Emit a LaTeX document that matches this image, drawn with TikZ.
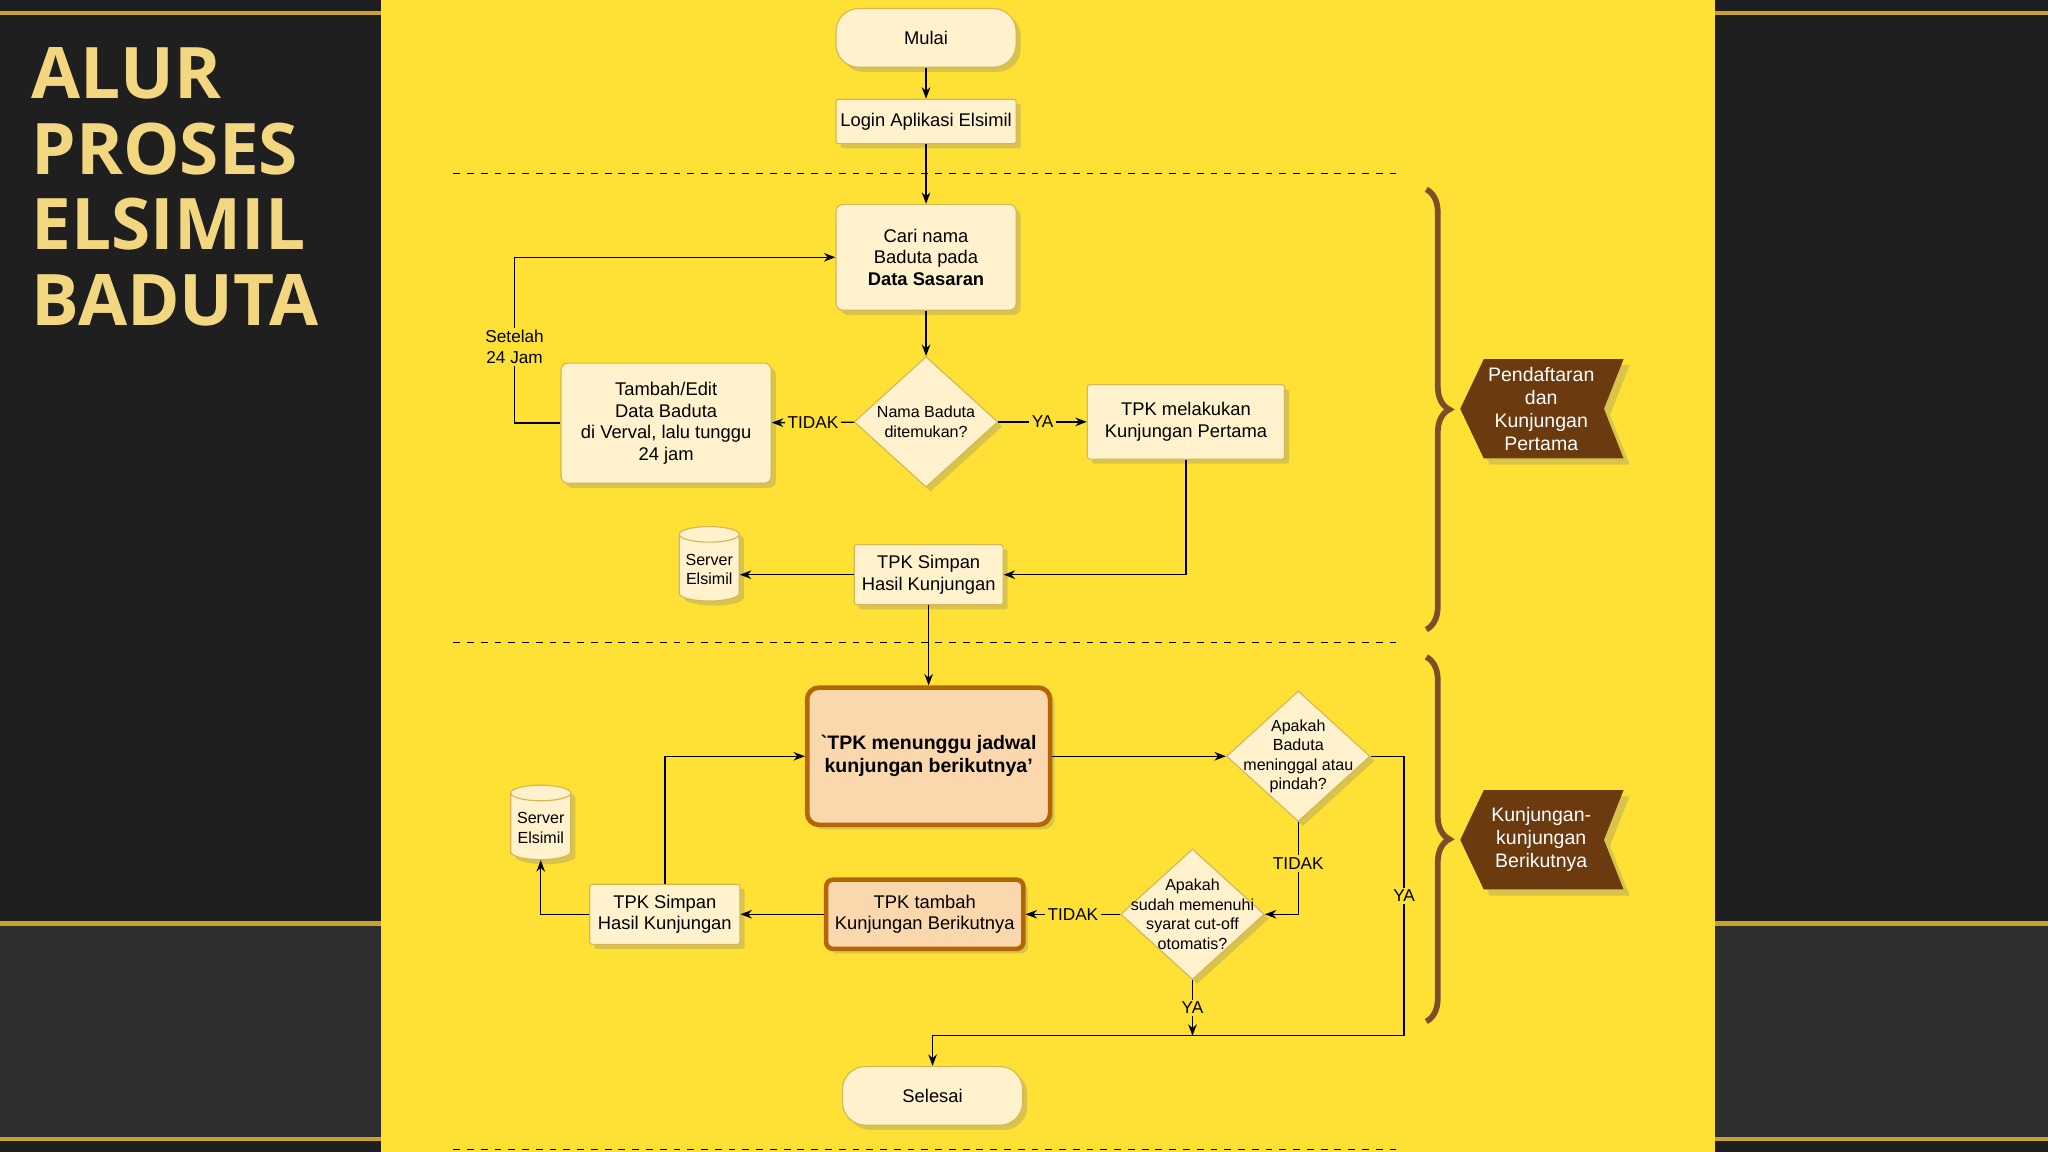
\documentclass[tikz,border=0pt]{standalone}
\usepackage{fontspec}
\setmainfont{Liberation Sans}
\newfontfamily\titlefont{Open Sans}
\usetikzlibrary{shapes.geometric,shadows,decorations.pathreplacing,arrows.meta}
\definecolor{bgY}{HTML}{FFE135}
\definecolor{nfill}{HTML}{FFF2CC}
\definecolor{nline}{HTML}{D6B656}
\definecolor{ofill}{HTML}{FAD7AC}
\definecolor{oline}{HTML}{B46504}
\definecolor{brn}{HTML}{6B3A0E}
\definecolor{gold}{HTML}{C9A22E}
\definecolor{ttl}{HTML}{F3D780}
\begin{document}
\begin{tikzpicture}[x=0.02cm,y=-0.02cm,
 base/.style={draw=nline,fill=nfill,line width=0.5pt,align=center,font=\fontsize{8}{9.5}\selectfont,drop shadow={opacity=0.3,shadow xshift=2pt,shadow yshift=-2pt},inner sep=1pt},
 term/.style={base,rounded corners=10pt,minimum width=2.76cm,minimum height=0.9cm},
 box/.style={base,rounded corners=3pt},
 dia/.style={base,diamond,minimum width=2.2cm,minimum height=2cm,inner sep=0pt},
 diat/.style={align=center,font=\fontsize{7}{8.5}\selectfont,inner sep=0pt},
 big/.style={base,draw=oline,fill=ofill,line width=2pt,rounded corners=5pt},
 cyl/.style={base,cylinder,shape border rotate=90,aspect=0.3,minimum width=0.92cm,minimum height=1.14cm,font=\fontsize{7}{8.5}\selectfont},
 arr/.style={-{Stealth[length=5pt]},line width=0.6pt},
 lab/.style={fill=bgY,inner sep=1pt,align=center,font=\fontsize{7.5}{9}\selectfont},
 dashln/.style={dashed,line width=0.6pt},
 brc/.style={draw=brn!90,line width=2.5pt,decorate,decoration={brace,amplitude=10pt}},
 tag/.style={fill=brn,draw=none,drop shadow={opacity=0.3}},
 tagt/.style={text=white,align=center,font=\fontsize{8.5}{10}\selectfont}]
\useasboundingbox (0,0) rectangle (1568,882);
\fill[black!88] (0,0) rectangle (1568,882);
\fill[black!82] (0,707) rectangle (1568,872);
\fill[bgY] (292,0) rectangle (1313,882);
\foreach \yy in {10,707,872}{
 \draw[gold,line width=2pt] (0,\yy) -- (292,\yy);
 \draw[gold,line width=2pt] (1313,\yy) -- (1568,\yy);}
\node[anchor=north west,align=left,text=ttl,font=\titlefont\bfseries\fontsize{31}{33}\selectfont] (title) at (18,30) {ALUR\\PROSES\\ELSIMIL\\BADUTA};
\foreach \yy in {133,492,880} \draw[dashln] (347,\yy) -- (1073,\yy);

\node[term] (mulai) at (709,29) {Mulai};
\node[box,rounded corners=1pt,minimum width=2.76cm,minimum height=0.68cm] (login) at (709,93) {Login Aplikasi Elsimil};
\node[box,minimum width=2.76cm,minimum height=1.62cm] (cari) at (709,197) {Cari nama\\Baduta pada\\\textbf{Data Sasaran}};
\node[dia] (d1) at (709,323) {};
\node[diat] (d1t) at (d1) {Nama Baduta\\ditemukan?};
\node[box,minimum width=3.22cm,minimum height=1.84cm] (tambah) at (510,324) {Tambah/Edit\\Data Baduta\\di Verval, lalu tunggu\\24 jam};
\node[box,rounded corners=1pt,minimum width=3.02cm,minimum height=1.14cm] (tpk1) at (908,323) {TPK melakukan\\Kunjungan Pertama};
\node[box,rounded corners=1pt,minimum width=2.28cm,minimum height=0.92cm] (simpan1) at (711,440) {TPK Simpan\\Hasil Kunjungan};
\node[cyl] (srv1) at (543,436) {Server\\Elsimil};

\node[big,minimum width=3.72cm,minimum height=2.1cm,font=\bfseries\fontsize{8.5}{10}\selectfont] (tunggu) at (711,579) {\textasciigrave TPK menunggu jadwal\\kunjungan berikutnya'};
\node[dia] (d2) at (994,579) {};
\node[diat] (d2t) at (d2) {Apakah\\Baduta\\meninggal atau\\pindah?};
\node[dia] (d3) at (913,700) {};
\node[diat] (d3t) at (d3) {Apakah\\sudah memenuhi\\syarat cut-off\\otomatis?};
\node[big,rounded corners=3pt,minimum width=3.02cm,minimum height=1.06cm] (tambah2) at (708,700) {TPK tambah\\Kunjungan Berikutnya};
\node[box,rounded corners=1pt,minimum width=2.3cm,minimum height=0.92cm] (simpan2) at (509,700) {TPK Simpan\\Hasil Kunjungan};
\node[cyl] (srv2) at (414,634) {Server\\Elsimil};
\node[term] (selesai) at (714,839) {Selesai};

\draw[arr] (mulai) -- (login);
\draw[arr] (login) -- (cari);
\draw[arr] (cari) -- (d1);
\draw[arr] (d1) -- node[lab]{TIDAK} (tambah);
\draw[arr] (d1) -- node[lab]{YA} (tpk1);
\draw[arr] (tambah.west) -- (394,324) -- node[lab,pos=0.46]{Setelah\\24 Jam} (394,197) -- (cari.west);
\draw[arr] (tpk1.south) |- (simpan1.east);
\draw[arr] (simpan1.west) -- (srv1.east |- simpan1.west);
\draw[arr] (simpan1) -- (tunggu);
\draw[arr] (tunggu) -- (d2);
\draw[arr] (d2.south) -- node[lab,pos=0.45]{TIDAK} (994,700) -- (d3.east);
\coordinate (c1) at (1075,793);
\coordinate (c2) at (714,793);
\draw[arr] (d2.east) -- (1075,579) -- node[lab,pos=0.5]{YA} (c1) -- (c2) -- (selesai.north);
\draw[arr] (d3.south) -- node[lab]{YA} (913,793);
\draw[arr] (d3) -- node[lab]{TIDAK} (tambah2);
\draw[arr] (tambah2) -- (simpan2);
\draw[arr] (simpan2.west) -| (srv2.south);
\draw[arr] (simpan2.north) |- (tunggu.west);

\draw[brc] (1092,145) -- (1092,482);
\draw[brc] (1092,503) -- (1092,782);
\fill[tag] (1118,313) -- (1136,275) -- (1243,275) -- (1228,313) -- (1243,351) -- (1136,351) -- cycle;
\node[tagt] (t1) at (1180,313) {Pendaftaran\\dan\\Kunjungan\\Pertama};
\fill[tag] (1118,643) -- (1136,605) -- (1243,605) -- (1228,643) -- (1243,681) -- (1136,681) -- cycle;
\node[tagt] (t2) at (1180,643) {Kunjungan-\\kunjungan\\Berikutnya};
\end{tikzpicture}
\end{document}
